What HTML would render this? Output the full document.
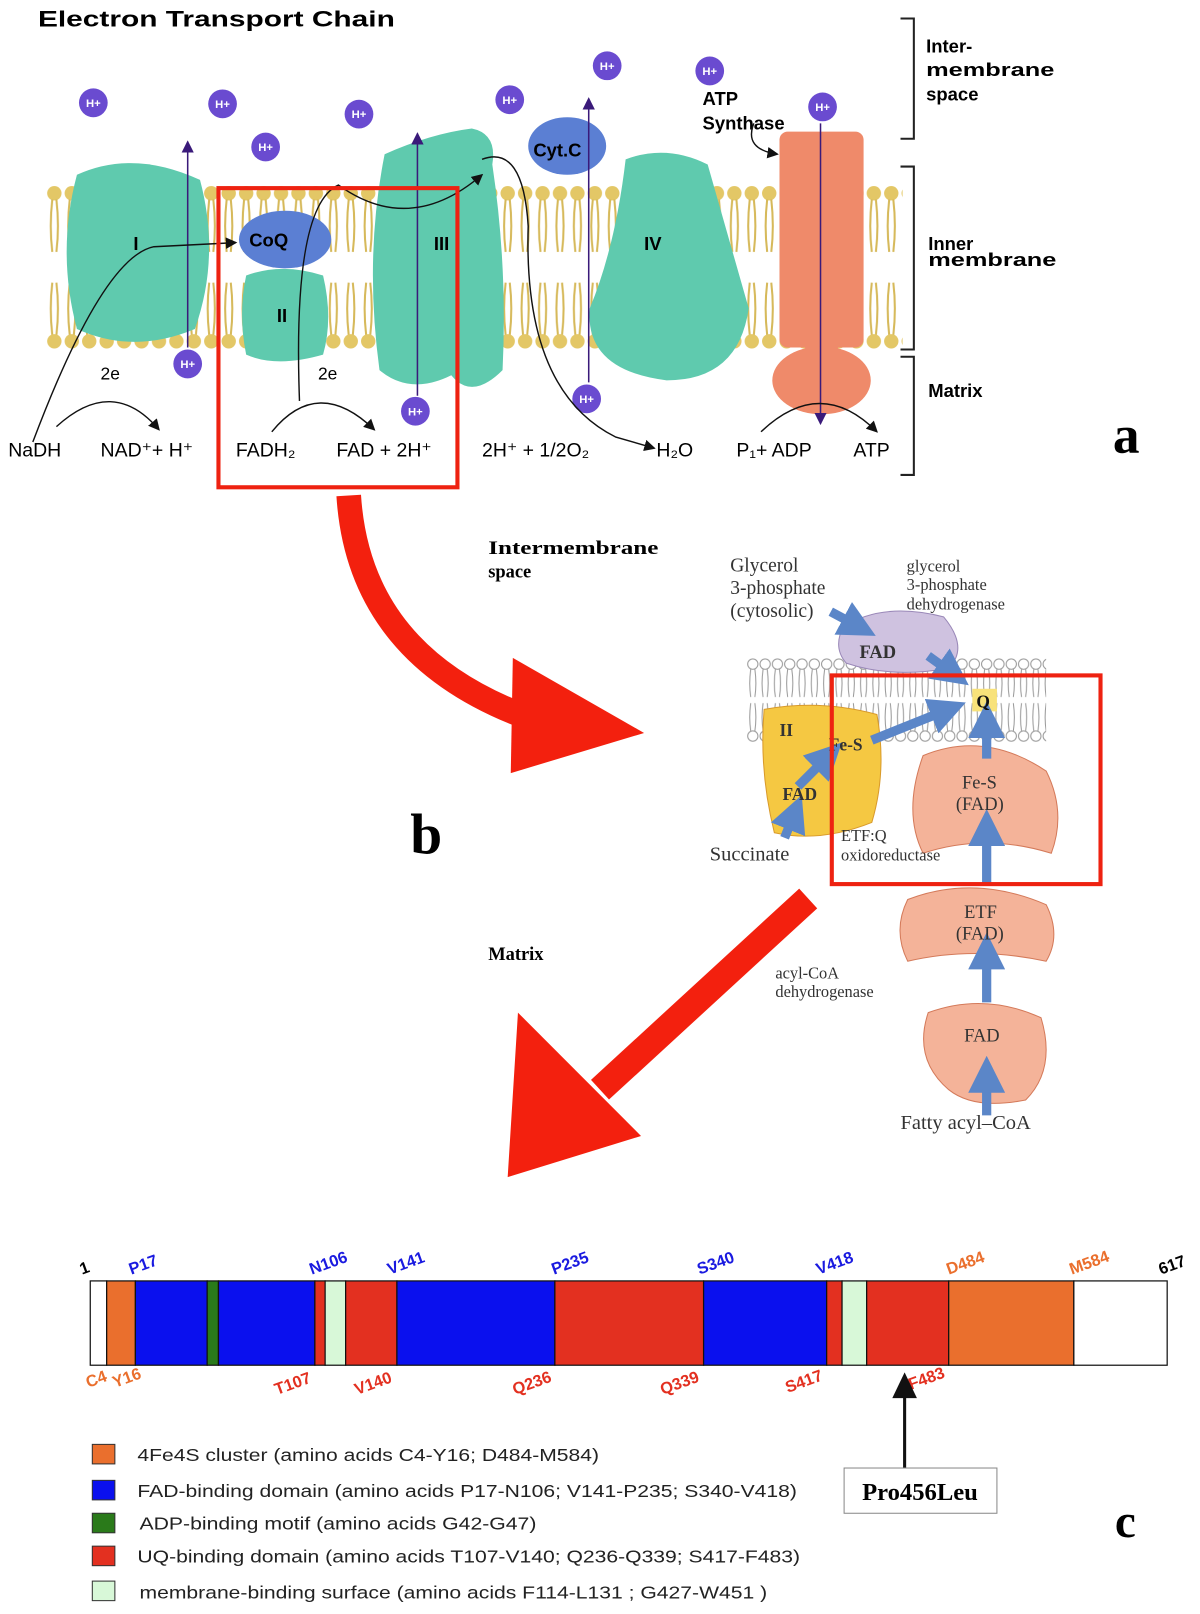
<!DOCTYPE html>
<html><head><meta charset="utf-8"><style>
html,body{margin:0;padding:0;background:#fff}
svg{display:block}
text{font-family:"Liberation Sans",sans-serif}
text.s,.s text{font-family:"Liberation Serif",serif}
</style></head><body>
<svg width="1200" height="1614" viewBox="0 0 1170 1570" preserveAspectRatio="none" xmlns="http://www.w3.org/2000/svg">
<defs>
<pattern id="lip" x="45" y="180" width="17" height="160" patternUnits="userSpaceOnUse">
<circle cx="8" cy="8" r="7" fill="#e3c766"/>
<path d="M6 14 Q3 40 6 65 M10 14 Q13 40 10 65" stroke="#d6b95a" stroke-width="2" fill="none"/>
<path d="M6 95 Q3 120 6 146 M10 95 Q13 120 10 146" stroke="#d6b95a" stroke-width="2" fill="none"/>
<circle cx="8" cy="152" r="7" fill="#e3c766"/>
</pattern>
<pattern id="lip2" x="728" y="640" width="12" height="82" patternUnits="userSpaceOnUse">
<circle cx="6" cy="6" r="5" fill="#fff" stroke="#999" stroke-width="1"/>
<path d="M4 11 Q2 25 4 38 M8 11 Q10 25 8 38 M4 44 Q2 58 4 71 M8 44 Q10 58 8 71" stroke="#999" fill="none"/>
<circle cx="6" cy="76" r="5" fill="#fff" stroke="#999" stroke-width="1"/>
</pattern>
<marker id="ah" markerWidth="8" markerHeight="8" refX="7" refY="4" orient="auto"><path d="M0 0 L8 4 L0 8 Z" fill="#111"/></marker>
<marker id="ap" markerWidth="8" markerHeight="8" refX="7" refY="4" orient="auto"><path d="M0 0 L8 4 L0 8 Z" fill="#3a1a7a"/></marker>
<marker id="ab" markerWidth="4" markerHeight="4" refX="2" refY="2" orient="auto"><path d="M0 0 L4 2 L0 4 Z" fill="#5b86c8"/></marker>
</defs>

<!-- Part a -->
<text x="37" y="26" font-size="22" font-weight="bold" textLength="348" lengthAdjust="spacingAndGlyphs">Electron Transport Chain</text>
<rect x="45" y="180" width="835" height="160" fill="url(#lip)"/>
<path d="M75 170 Q130 145 195 175 Q215 250 190 320 Q130 345 75 320 Q55 245 75 170Z" fill="#5fcaae"/>
<path d="M240 268 Q275 255 315 268 Q325 310 315 345 Q270 358 240 345 Q232 305 240 268Z" fill="#5fcaae"/>
<path d="M375 150 Q420 130 460 125 Q485 130 480 160 Q495 260 490 360 Q460 390 440 365 Q400 385 370 360 Q355 250 375 150Z" fill="#5fcaae"/>
<path d="M610 155 Q650 140 690 160 Q710 230 730 300 Q720 370 650 370 Q570 360 575 300 Q600 240 610 155Z" fill="#5fcaae"/>
<ellipse cx="278" cy="233" rx="45" ry="28" fill="#5b7fd3"/>
<ellipse cx="553" cy="142" rx="38" ry="28" fill="#5b7fd3"/>
<rect x="760" y="128" width="82" height="210" rx="8" fill="#ef8a6a"/>
<rect x="785" y="330" width="32" height="20" fill="#ef8a6a"/>
<ellipse cx="801" cy="370" rx="48" ry="33" fill="#ef8a6a"/>
<text x="130" y="243" font-size="18" font-weight="bold">I</text>
<text x="270" y="313" font-size="18" font-weight="bold">II</text>
<text x="423" y="243" font-size="18" font-weight="bold">III</text>
<text x="628" y="243" font-size="18" font-weight="bold">IV</text>
<text x="243" y="240" font-size="18" font-weight="bold">CoQ</text>
<text x="520" y="152" font-size="18" font-weight="bold">Cyt.C</text>
<text x="685" y="102" font-size="18" font-weight="bold">ATP</text>
<text x="685" y="126" font-size="18" font-weight="bold">Synthase</text>
<g font-size="11" font-weight="bold" fill="#fff" text-anchor="middle">
<g fill="#6a4bd0"><circle cx="91" cy="100" r="14"/><circle cx="217" cy="101" r="14"/><circle cx="350" cy="111" r="14"/><circle cx="259" cy="143" r="14"/><circle cx="497" cy="97" r="14"/><circle cx="592" cy="64" r="14"/><circle cx="692" cy="69" r="14"/><circle cx="802" cy="104" r="14"/><circle cx="183" cy="354" r="14"/><circle cx="405" cy="400" r="14"/><circle cx="572" cy="388" r="14"/></g>
<text x="91" y="104">H+</text><text x="217" y="105">H+</text><text x="350" y="115">H+</text><text x="259" y="147">H+</text><text x="497" y="101">H+</text><text x="592" y="68">H+</text><text x="692" y="73">H+</text><text x="802" y="108">H+</text><text x="183" y="358">H+</text><text x="405" y="404">H+</text><text x="572" y="392">H+</text>
</g>
<g stroke="#3a1a7a" stroke-width="1.5" marker-end="url(#ap)">
<line x1="183" y1="338" x2="183" y2="138"/><line x1="407" y1="385" x2="407" y2="130"/><line x1="574" y1="372" x2="574" y2="96"/><line x1="800" y1="120" x2="800" y2="412"/>
</g>
<g fill="none" stroke="#111" stroke-width="1.4">
<path d="M32 430 Q100 250 150 240 L230 236" marker-end="url(#ah)"/>
<path d="M55 415 Q110 365 155 418" marker-end="url(#ah)"/>
<path d="M292 390 Q285 200 330 180 Q400 230 470 170" marker-end="url(#ah)"/>
<path d="M265 420 Q310 365 365 418" marker-end="url(#ah)"/>
<path d="M470 155 Q510 140 515 220 Q510 380 600 425 L638 436" marker-end="url(#ah)"/>
<path d="M742 420 Q800 365 855 420" marker-end="url(#ah)"/>
<path d="M735 120 Q725 145 758 150" marker-end="url(#ah)"/>
</g>
<text x="98" y="369" font-size="17">2e</text><text x="310" y="369" font-size="17">2e</text>
<g font-size="19">
<text x="8" y="444">NaDH</text><text x="98" y="444">NAD⁺+ H⁺</text><text x="230" y="444">FADH₂</text><text x="328" y="444">FAD + 2H⁺</text>
<text x="470" y="444">2H⁺ + 1/2O₂</text><text x="640" y="444">H₂O</text><text x="718" y="444">P₁+ ADP</text><text x="832" y="444">ATP</text>
</g>
<rect x="213" y="183" width="233" height="291" fill="none" stroke="#ee2211" stroke-width="4"/>
<g fill="none" stroke="#222" stroke-width="2">
<path d="M878 18 H891 V135 H878"/><path d="M878 162 H891 V340 H878"/><path d="M878 347 H891 V462 H878"/>
</g>
<g font-size="18" font-weight="bold">
<text x="903" y="51">Inter-</text><text x="903" y="74" textLength="125" lengthAdjust="spacingAndGlyphs">membrane</text><text x="903" y="98">space</text>
<text x="905" y="243">Inner</text><text x="905" y="259" textLength="125" lengthAdjust="spacingAndGlyphs">membrane</text>
<text x="905" y="386">Matrix</text>
</g>
<text x="1085" y="440" class="s" font-size="52" font-weight="bold">a</text>

<!-- Part b -->
<text x="476" y="539" class="s" font-size="18" font-weight="bold" textLength="166" lengthAdjust="spacingAndGlyphs">Intermembrane</text>
<text x="476" y="562" class="s" font-size="18" font-weight="bold">space</text>
<text x="476" y="934" class="s" font-size="18" font-weight="bold">Matrix</text>
<text x="400" y="830" class="s" font-size="56" font-weight="bold">b</text>
<rect x="728" y="640" width="292" height="82" fill="url(#lip2)"/>
<path d="M822 610 Q860 585 920 600 Q945 630 925 650 Q870 660 825 645 Q812 630 822 610Z" fill="#cfc2e0" stroke="#9a88b8"/>
<path d="M745 690 Q800 680 855 695 Q865 750 850 800 Q800 820 755 810 Q740 750 745 690Z" fill="#f5c842" stroke="#d99a2a"/>
<path d="M900 735 Q960 710 1020 750 Q1040 790 1025 830 Q960 810 900 830 Q880 790 900 735Z" fill="#f4b399" stroke="#d47a5a"/>
<path d="M885 875 Q950 850 1020 880 Q1035 910 1020 935 Q950 920 885 935 Q870 905 885 875Z" fill="#f4b399" stroke="#d47a5a"/>
<path d="M905 985 Q960 965 1015 990 Q1030 1040 1000 1070 Q950 1080 925 1060 Q890 1030 905 985Z" fill="#f4b399" stroke="#d47a5a"/>
<rect x="948" y="670" width="24" height="22" fill="#f8e27a"/>
<g stroke="#5b86c8" stroke-width="9" marker-end="url(#ab)" fill="none">
<line x1="962" y1="1085" x2="962" y2="1045"/><line x1="962" y1="975" x2="962" y2="925"/><line x1="962" y1="860" x2="962" y2="805"/><line x1="962" y1="738" x2="962" y2="700"/>
<line x1="850" y1="720" x2="925" y2="690"/><line x1="778" y1="765" x2="808" y2="735"/><line x1="765" y1="815" x2="775" y2="790"/>
<line x1="810" y1="595" x2="838" y2="610"/><line x1="905" y1="638" x2="930" y2="656"/>
</g>
<g class="s" fill="#333">
<text x="712" y="556" font-size="19">Glycerol</text><text x="712" y="578" font-size="19">3-phosphate</text><text x="712" y="600" font-size="19">(cytosolic)</text>
<text x="884" y="556" font-size="16">glycerol</text><text x="884" y="574" font-size="16">3-phosphate</text><text x="884" y="593" font-size="16">dehydrogenase</text>
<text x="838" y="640" font-size="18" font-weight="bold">FAD</text>
<text x="952" y="688" font-size="17" font-weight="bold" fill="#111">Q</text>
<text x="760" y="716" font-size="17" font-weight="bold">II</text>
<text x="808" y="730" font-size="17" font-weight="bold">Fe-S</text>
<text x="763" y="778" font-size="17" font-weight="bold">FAD</text>
<text x="692" y="837" font-size="20">Succinate</text>
<text x="938" y="767" font-size="18">Fe-S</text><text x="932" y="788" font-size="18">(FAD)</text>
<text x="820" y="818" font-size="16">ETF:Q</text><text x="820" y="837" font-size="16">oxidoreductase</text>
<text x="940" y="893" font-size="18">ETF</text><text x="932" y="914" font-size="18">(FAD)</text>
<text x="756" y="952" font-size="16">acyl-CoA</text><text x="756" y="970" font-size="16">dehydrogenase</text>
<text x="940" y="1013" font-size="18">FAD</text>
<text x="878" y="1098" font-size="20">Fatty acyl–CoA</text>
</g>
<rect x="811" y="657" width="262" height="203" fill="none" stroke="#ee2211" stroke-width="4"/>
<path d="M340 482 Q350 640 520 700" fill="none" stroke="#f3200e" stroke-width="24"/>
<path d="M500 640 L628 713 L498 752 Z" fill="#f3200e"/>
<line x1="788" y1="874" x2="585" y2="1060" stroke="#f3200e" stroke-width="26"/>
<path d="M505 985 L625 1105 L495 1145 Z" fill="#f3200e"/>

<!-- Part c -->
<g stroke="#111" stroke-width="1.2">
<rect x="88" y="1246" width="16" height="82" fill="#fff"/>
<rect x="104" y="1246" width="28" height="82" fill="#ea6f2d"/>
<rect x="132" y="1246" width="70" height="82" fill="#0a10ee"/>
<rect x="202" y="1246" width="11" height="82" fill="#2a7a1a"/>
<rect x="213" y="1246" width="94" height="82" fill="#0a10ee"/>
<rect x="307" y="1246" width="10" height="82" fill="#e33020"/>
<rect x="317" y="1246" width="20" height="82" fill="#d8f8d8"/>
<rect x="337" y="1246" width="50" height="82" fill="#e33020"/>
<rect x="387" y="1246" width="154" height="82" fill="#0a10ee"/>
<rect x="541" y="1246" width="145" height="82" fill="#e33020"/>
<rect x="686" y="1246" width="120" height="82" fill="#0a10ee"/>
<rect x="806" y="1246" width="15" height="82" fill="#e33020"/>
<rect x="821" y="1246" width="24" height="82" fill="#d8f8d8"/>
<rect x="845" y="1246" width="80" height="82" fill="#e33020"/>
<rect x="925" y="1246" width="122" height="82" fill="#ea6f2d"/>
<rect x="1047" y="1246" width="91" height="82" fill="#fff"/>
</g>
<g font-size="16" font-weight="bold">
<g fill="#1a1ae0">
<text transform="translate(128,1240) rotate(-20)">P17</text>
<text transform="translate(304,1240) rotate(-20)">N106</text>
<text transform="translate(380,1240) rotate(-20)">V141</text>
<text transform="translate(540,1240) rotate(-20)">P235</text>
<text transform="translate(682,1240) rotate(-20)">S340</text>
<text transform="translate(798,1240) rotate(-20)">V418</text>
</g>
<g fill="#ea6f2d">
<text transform="translate(925,1240) rotate(-20)">D484</text>
<text transform="translate(1045,1240) rotate(-20)">M584</text>
<text transform="translate(86,1350) rotate(-20)">C4</text>
<text transform="translate(112,1350) rotate(-20)">Y16</text>
</g>
<text transform="translate(80,1240) rotate(-20)">1</text>
<text transform="translate(1132,1240) rotate(-20)">617</text>
<g fill="#e33020">
<text transform="translate(270,1357) rotate(-20)">T107</text>
<text transform="translate(348,1357) rotate(-20)">V140</text>
<text transform="translate(502,1357) rotate(-20)">Q236</text>
<text transform="translate(646,1357) rotate(-20)">Q339</text>
<text transform="translate(768,1355) rotate(-20)">S417</text>
<text transform="translate(888,1352) rotate(-20)">F483</text>
</g>
</g>
<line x1="882" y1="1428" x2="882" y2="1350" stroke="#111" stroke-width="3"/>
<path d="M870 1360 L882 1335 L894 1360 Z" fill="#111"/>
<rect x="823" y="1428" width="149" height="44" fill="#fff" stroke="#888"/>
<text x="897" y="1459" class="s" font-size="24" font-weight="bold" text-anchor="middle">Pro456Leu</text>
<text x="1087" y="1495" class="s" font-size="46" font-weight="bold">c</text>
<g stroke="#333" stroke-width="1">
<rect x="90" y="1405" width="22" height="19" fill="#ea6f2d"/>
<rect x="90" y="1440" width="22" height="19" fill="#0a10ee"/>
<rect x="90" y="1472" width="22" height="19" fill="#2a7a1a"/>
<rect x="90" y="1504" width="22" height="19" fill="#e33020"/>
<rect x="90" y="1538" width="22" height="19" fill="#d8f8d8"/>
</g>
<g font-size="17" fill="#222">
<text x="134" y="1421" textLength="450" lengthAdjust="spacingAndGlyphs">4Fe4S cluster (amino acids C4-Y16; D484-M584)</text>
<text x="134" y="1456" textLength="643" lengthAdjust="spacingAndGlyphs">FAD-binding domain (amino acids P17-N106; V141-P235; S340-V418)</text>
<text x="136" y="1488" textLength="387" lengthAdjust="spacingAndGlyphs">ADP-binding motif (amino acids G42-G47)</text>
<text x="134" y="1520" textLength="646" lengthAdjust="spacingAndGlyphs">UQ-binding domain (amino acids T107-V140; Q236-Q339; S417-F483)</text>
<text x="136" y="1555" textLength="612" lengthAdjust="spacingAndGlyphs">membrane-binding surface (amino acids F114-L131 ; G427-W451 )</text>
</g>
</svg>
</body></html>
